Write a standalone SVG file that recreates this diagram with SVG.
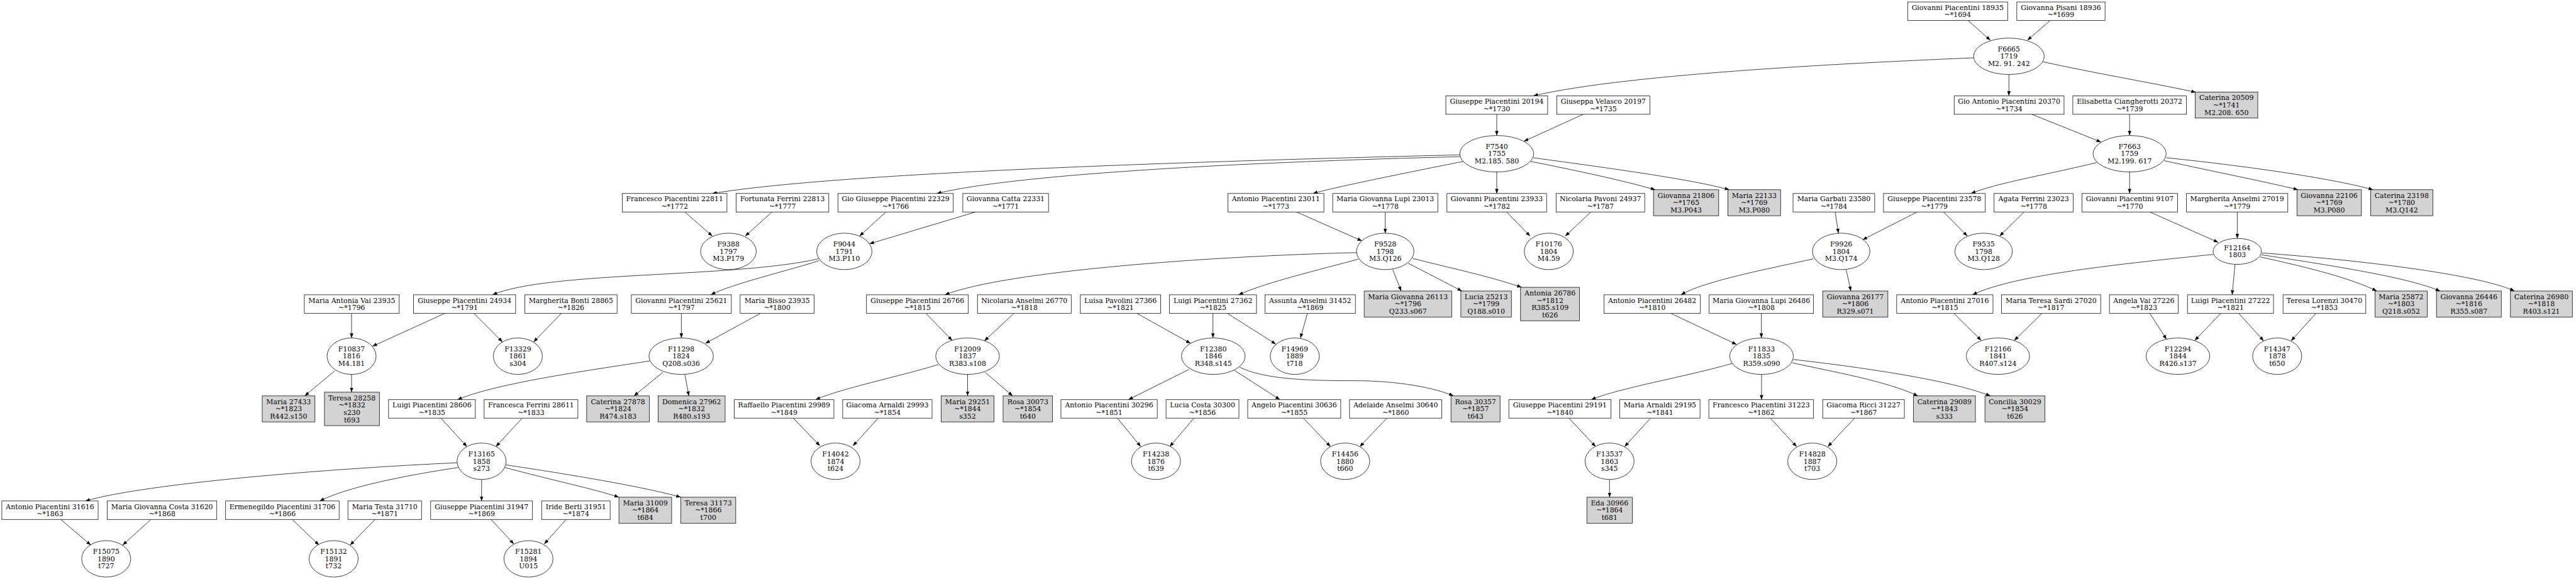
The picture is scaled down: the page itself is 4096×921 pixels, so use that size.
<svg xmlns="http://www.w3.org/2000/svg" width="4096" height="921" viewBox="0 0 4096 921">
<style>
.b{fill:#fff;stroke:#000;stroke-width:1.3}
.g{fill:#d3d3d3;stroke:#000;stroke-width:1.3}
.e{fill:#fff;stroke:#000;stroke-width:1.3}
text{font-family:"DejaVu Serif",serif;font-size:18.8px;text-anchor:middle;fill:#000}
#edges path{fill:none;stroke:#000;stroke-width:1.3;marker-end:url(#a)}
</style>
<defs>
<marker id="a" markerUnits="userSpaceOnUse" viewBox="0 0 12.5 9.5" refX="12.5" refY="4.75" markerWidth="12.5" markerHeight="9.5" orient="auto"><path d="M0,0L12.5,4.75L0,9.5z" fill="#000"/></marker>
</defs>
<rect width="4096" height="921" fill="#fff"/>
<g transform="scale(0.58232)">
<g id="edges">
<path d="M5374,55.9 L5435,110"/>
<path d="M5598,55.9 L5536,110"/>
<path d="M5485.5,203.6 L5485.5,261.7"/>
<path d="M5389,158 C5100,170 4450,200 4187,261.7"/>
<path d="M5579,169 C5720,200 5870,225 5996,252"/>
<path d="M4087,312.3 L4087,370.2"/>
<path d="M4323,312.3 L4161,386"/>
<path d="M5548,312.3 L5737,388"/>
<path d="M5815,312.3 L5815,370.2"/>
<path d="M3986,423 C3300,440 2300,470 1945,528.5"/>
<path d="M3987,428 C3500,440 2800,470 2558,528.5"/>
<path d="M3995,441 C3850,470 3650,510 3585,528.5"/>
<path d="M4087,469.8 L4087,528.5"/>
<path d="M4180,441 C4300,465 4420,490 4520,518.3"/>
<path d="M4187,431 C4400,460 4620,490 4722,518.3"/>
<path d="M1870,579 L1945,645"/>
<path d="M2108,579 L2035,645"/>
<path d="M2419,579 L2347,645"/>
<path d="M2664,579 L2374,666"/>
<path d="M3540,579 L3719,658"/>
<path d="M3782.5,579 L3782.5,637"/>
<path d="M4114,579 L4178,645"/>
<path d="M4344,579 L4274,645"/>
<path d="M5725,444 C5600,475 5450,500 5382,528.5"/>
<path d="M5815,469.8 L5815,528.5"/>
<path d="M5910,439 C6050,470 6180,495 6275,518.3"/>
<path d="M5916,431 C6150,455 6380,490 6480,518.3"/>
<path d="M5011,579 L5020,637"/>
<path d="M5235,579 L5086,655"/>
<path d="M5307,579 L5372,645"/>
<path d="M5527,579 L5460,645"/>
<path d="M5870,579 L6057,662"/>
<path d="M6109,579 L6109,651.5"/>
<path d="M2235,707 C2000,760 1500,740 1345,805.2"/>
<path d="M2237,712 C2150,740 2000,775 1941,805.2"/>
<path d="M3704,690 C3300,700 2750,740 2580,805.2"/>
<path d="M3709,708 C3550,750 3450,775 3382,805.2"/>
<path d="M3803,736.5 L3826,795"/>
<path d="M3845,719 L3992,795"/>
<path d="M3858,706 C3950,730 4070,755 4155,785"/>
<path d="M4952,707 C4800,740 4650,770 4590,805.2"/>
<path d="M5041,736.5 L5054,795"/>
<path d="M6043,695 C5800,720 5500,750 5386,805.2"/>
<path d="M6103,722.2 L6095,805.2"/>
<path d="M6172,702 C6300,730 6420,760 6490,795"/>
<path d="M6175,696 C6400,730 6580,760 6663,795"/>
<path d="M6177,691 C6500,715 6780,755 6866,795"/>
<path d="M960,855.8 L960,923.2"/>
<path d="M1215,855.8 L1017,946"/>
<path d="M1294,855.8 L1372,934"/>
<path d="M1533,855.8 L1457,934"/>
<path d="M1860.5,855.8 L1860.5,923.2"/>
<path d="M2077,855.8 L1926,938"/>
<path d="M2528,855.8 L2600,930"/>
<path d="M2769,855.8 L2688,931"/>
<path d="M3104,855.8 L3251,938"/>
<path d="M3312,855.8 L3312,923.2"/>
<path d="M3351,855.8 L3484,940"/>
<path d="M3570,855.8 L3551,923.5"/>
<path d="M4809.5,855.8 L4809.5,923.2"/>
<path d="M4562,855.8 L4742,941"/>
<path d="M5335,855.8 L5410,930"/>
<path d="M5576,855.8 L5500,930"/>
<path d="M5870,855.8 L5916,927"/>
<path d="M6064,855.8 L5993,930"/>
<path d="M6113,855.8 L6181,931"/>
<path d="M6324,855.8 L6256,931"/>
<path d="M914,1013 L832,1081.5"/>
<path d="M960,1022.8 L960,1071.3"/>
<path d="M1774,986 C1550,1020 1350,1050 1249,1091.7"/>
<path d="M1810,1017 L1731,1081.5"/>
<path d="M1870,1022.8 L1881,1081.5"/>
<path d="M2562,996 C2450,1030 2300,1060 2227,1091.7"/>
<path d="M2642,1022.8 L2642,1081.5"/>
<path d="M2690,1017 L2765,1081.5"/>
<path d="M3247,1009 L3081,1091.7"/>
<path d="M3371,1012 L3495,1091.7"/>
<path d="M3385,1003 C3450,1035 3560,1040 3700,1040 C3820,1040 3920,1060 3969,1081.5"/>
<path d="M4729,993 C4600,1030 4420,1060 4345,1091.7"/>
<path d="M4810,1022.8 L4810,1091.7"/>
<path d="M4894,991 C5000,1015 5150,1040 5237,1081.5"/>
<path d="M4897,982 C5100,1005 5330,1040 5435,1081.5"/>
<path d="M1204,1142.2 L1275,1220"/>
<path d="M1426,1142.2 L1354,1220"/>
<path d="M2166,1142.2 L2239,1218"/>
<path d="M2398,1142.2 L2329,1218"/>
<path d="M3051,1142.2 L3115,1220"/>
<path d="M3260,1142.2 L3194,1220"/>
<path d="M3559,1142.2 L3633,1220"/>
<path d="M3787,1142.2 L3713,1220"/>
<path d="M4284,1142.2 L4357,1220"/>
<path d="M4507,1142.2 L4436,1220"/>
<path d="M4834,1142.2 L4906,1220"/>
<path d="M5064,1142.2 L4991,1220"/>
<path d="M1249,1264 C900,1280 400,1320 233,1368.5"/>
<path d="M1251,1277 C1100,1300 950,1330 873,1368.5"/>
<path d="M1315,1309.8 L1315,1368.5"/>
<path d="M1379,1277 C1500,1310 1620,1335 1690,1358.2"/>
<path d="M1382,1270 C1550,1295 1760,1330 1859,1358.2"/>
<path d="M4395,1309.8 L4395,1358.2"/>
<path d="M166,1419 L248,1489"/>
<path d="M412,1419 L335,1489"/>
<path d="M798,1419 L871,1489"/>
<path d="M1024,1419 L956,1489"/>
<path d="M1341,1419 L1403,1486"/>
<path d="M1546,1419 L1486,1486"/>
</g>

<g id="p18935"><rect class="b" x="5209" y="5.35" width="273" height="50.5"/><text x="5345.5" y="27.1"><tspan x="5345.5">Giovanni Piacentini 18935</tspan><tspan x="5345.5" dy="20">~*1694</tspan></text></g>
<g id="p18936"><rect class="b" x="5507" y="5.35" width="241" height="50.5"/><text x="5627.5" y="27.1"><tspan x="5627.5">Giovanna Pisani 18936</tspan><tspan x="5627.5" dy="20">~*1699</tspan></text></g>
<g id="F6665"><ellipse class="e" cx="5485.5" cy="153.8" rx="96.5" ry="49.8"/><text x="5485.5" y="140.3"><tspan x="5485.5">F6665</tspan><tspan x="5485.5" dy="20">1719</tspan><tspan x="5485.5" dy="20">M2. 91. 242</tspan></text></g>

<g id="p20194"><rect class="b" x="3948" y="261.75" width="278" height="50.5"/><text x="4087" y="283.5"><tspan x="4087">Giuseppe Piacentini 20194</tspan><tspan x="4087" dy="20">~*1730</tspan></text></g>
<g id="p20197"><rect class="b" x="4251" y="261.75" width="254" height="50.5"/><text x="4378" y="283.5"><tspan x="4378">Giuseppa Velasco 20197</tspan><tspan x="4378" dy="20">~*1735</tspan></text></g>
<g id="p20370"><rect class="b" x="5336" y="261.75" width="300" height="50.5"/><text x="5486" y="283.5"><tspan x="5486">Gio Antonio Piacentini 20370</tspan><tspan x="5486" dy="20">~*1734</tspan></text></g>
<g id="p20372"><rect class="b" x="5660" y="261.75" width="310" height="50.5"/><text x="5815" y="283.5"><tspan x="5815">Elisabetta Ciangherotti 20372</tspan><tspan x="5815" dy="20">~*1739</tspan></text></g>
<g id="p20509"><rect class="g" x="5994" y="251.5" width="171" height="71"/><text x="6079.5" y="273.5"><tspan x="6079.5">Caterina 20509</tspan><tspan x="6079.5" dy="20">~*1741</tspan><tspan x="6079.5" dy="20">M2.208. 650</tspan></text></g>

<g id="F7540"><ellipse class="e" cx="4087" cy="420" rx="101" ry="49.8"/><text x="4087" y="406.5"><tspan x="4087">F7540</tspan><tspan x="4087" dy="20">1755</tspan><tspan x="4087" dy="20">M2.185. 580</tspan></text></g>
<g id="F7663"><ellipse class="e" cx="5815" cy="420" rx="100" ry="49.8"/><text x="5815" y="406.5"><tspan x="5815">F7663</tspan><tspan x="5815" dy="20">1759</tspan><tspan x="5815" dy="20">M2.199. 617</tspan></text></g>

<g id="p22811"><rect class="b" x="1699" y="528.55" width="286" height="50.5"/><text x="1842" y="550.3"><tspan x="1842">Francesco Piacentini 22811</tspan><tspan x="1842" dy="20">~*1772</tspan></text></g>
<g id="p22813"><rect class="b" x="2010" y="528.55" width="253" height="50.5"/><text x="2136.5" y="550.3"><tspan x="2136.5">Fortunata Ferrini 22813</tspan><tspan x="2136.5" dy="20">~*1777</tspan></text></g>
<g id="p22329"><rect class="b" x="2288" y="528.55" width="315" height="50.5"/><text x="2445.5" y="550.3"><tspan x="2445.5">Gio Giuseppe Piacentini 22329</tspan><tspan x="2445.5" dy="20">~*1766</tspan></text></g>
<g id="p22331"><rect class="b" x="2629" y="528.55" width="234" height="50.5"/><text x="2746" y="550.3"><tspan x="2746">Giovanna Catta 22331</tspan><tspan x="2746" dy="20">~*1771</tspan></text></g>
<g id="p23011"><rect class="b" x="3353" y="528.55" width="262" height="50.5"/><text x="3484" y="550.3"><tspan x="3484">Antonio Piacentini 23011</tspan><tspan x="3484" dy="20">~*1773</tspan></text></g>
<g id="p23013"><rect class="b" x="3639" y="528.55" width="287" height="50.5"/><text x="3782.5" y="550.3"><tspan x="3782.5">Maria Giovanna Lupi 23013</tspan><tspan x="3782.5" dy="20">~*1778</tspan></text></g>
<g id="p23933"><rect class="b" x="3951" y="528.55" width="272" height="50.5"/><text x="4087" y="550.3"><tspan x="4087">Giovanni Piacentini 23933</tspan><tspan x="4087" dy="20">~*1782</tspan></text></g>
<g id="p24937"><rect class="b" x="4249" y="528.55" width="242" height="50.5"/><text x="4370" y="550.3"><tspan x="4370">Nicolaria Pavoni 24937</tspan><tspan x="4370" dy="20">~*1787</tspan></text></g>
<g id="p21806"><rect class="g" x="4515" y="518.3" width="178" height="71"/><text x="4604" y="540.3"><tspan x="4604">Giovanna 21806</tspan><tspan x="4604" dy="20">~*1765</tspan><tspan x="4604" dy="20">M3.P043</tspan></text></g>
<g id="p22133"><rect class="g" x="4718" y="518.3" width="144" height="71"/><text x="4790" y="540.3"><tspan x="4790">Maria 22133</tspan><tspan x="4790" dy="20">~*1769</tspan><tspan x="4790" dy="20">M3.P080</tspan></text></g>
<g id="p23580"><rect class="b" x="4896" y="528.55" width="223" height="50.5"/><text x="5007.5" y="550.3"><tspan x="5007.5">Maria Garbati 23580</tspan><tspan x="5007.5" dy="20">~*1784</tspan></text></g>
<g id="p23578"><rect class="b" x="5143" y="528.55" width="278" height="50.5"/><text x="5282" y="550.3"><tspan x="5282">Giuseppe Piacentini 23578</tspan><tspan x="5282" dy="20">~*1779</tspan></text></g>
<g id="p23023"><rect class="b" x="5445" y="528.55" width="216" height="50.5"/><text x="5553" y="550.3"><tspan x="5553">Agata Ferrini 23023</tspan><tspan x="5553" dy="20">~*1778</tspan></text></g>
<g id="p9107"><rect class="b" x="5685" y="528.55" width="261" height="50.5"/><text x="5815.5" y="550.3"><tspan x="5815.5">Giovanni Piacentini 9107</tspan><tspan x="5815.5" dy="20">~*1770</tspan></text></g>
<g id="p27019"><rect class="b" x="5970" y="528.55" width="277" height="50.5"/><text x="6108.5" y="550.3"><tspan x="6108.5">Margherita Anselmi 27019</tspan><tspan x="6108.5" dy="20">~*1779</tspan></text></g>
<g id="p22106"><rect class="g" x="6272" y="518.3" width="176" height="71"/><text x="6360" y="540.3"><tspan x="6360">Giovanna 22106</tspan><tspan x="6360" dy="20">~*1769</tspan><tspan x="6360" dy="20">M3.P080</tspan></text></g>
<g id="p23198"><rect class="g" x="6473" y="518.3" width="170" height="71"/><text x="6558" y="540.3"><tspan x="6558">Caterina 23198</tspan><tspan x="6558" dy="20">~*1780</tspan><tspan x="6558" dy="20">M3.Q142</tspan></text></g>

<g id="F9388"><ellipse class="e" cx="1989" cy="686.7" rx="76" ry="49.8"/><text x="1989" y="673.2"><tspan x="1989">F9388</tspan><tspan x="1989" dy="20">1797</tspan><tspan x="1989" dy="20">M3.P179</tspan></text></g>
<g id="F9044"><ellipse class="e" cx="2305.5" cy="686.7" rx="75.5" ry="49.8"/><text x="2305.5" y="673.2"><tspan x="2305.5">F9044</tspan><tspan x="2305.5" dy="20">1791</tspan><tspan x="2305.5" dy="20">M3.P110</tspan></text></g>
<g id="F9528"><ellipse class="e" cx="3782.5" cy="686.7" rx="78.5" ry="49.8"/><text x="3782.5" y="673.2"><tspan x="3782.5">F9528</tspan><tspan x="3782.5" dy="20">1798</tspan><tspan x="3782.5" dy="20">M3.Q126</tspan></text></g>
<g id="F10176"><ellipse class="e" cx="4229" cy="686.7" rx="67" ry="49.8"/><text x="4229" y="673.2"><tspan x="4229">F10176</tspan><tspan x="4229" dy="20">1804</tspan><tspan x="4229" dy="20">M4.59</tspan></text></g>
<g id="F9926"><ellipse class="e" cx="5027.5" cy="686.7" rx="78.5" ry="49.8"/><text x="5027.5" y="673.2"><tspan x="5027.5">F9926</tspan><tspan x="5027.5" dy="20">1804</tspan><tspan x="5027.5" dy="20">M3.Q174</tspan></text></g>
<g id="F9535"><ellipse class="e" cx="5416.5" cy="686.7" rx="78.5" ry="49.8"/><text x="5416.5" y="673.2"><tspan x="5416.5">F9535</tspan><tspan x="5416.5" dy="20">1798</tspan><tspan x="5416.5" dy="20">M3.Q128</tspan></text></g>
<g id="F12164"><ellipse class="e" cx="6109" cy="686.7" rx="66" ry="35.5"/><text x="6109" y="683.2"><tspan x="6109">F12164</tspan><tspan x="6109" dy="20">1803</tspan></text></g>

<g id="p23935a"><rect class="b" x="831" y="805.25" width="259" height="50.5"/><text x="960.5" y="827"><tspan x="960.5">Maria Antonia Vai 23935</tspan><tspan x="960.5" dy="20">~*1796</tspan></text></g>
<g id="p24934"><rect class="b" x="1129" y="805.25" width="279" height="50.5"/><text x="1268.5" y="827"><tspan x="1268.5">Giuseppe Piacentini 24934</tspan><tspan x="1268.5" dy="20">~*1791</tspan></text></g>
<g id="p28865"><rect class="b" x="1433" y="805.25" width="252" height="50.5"/><text x="1559" y="827"><tspan x="1559">Margherita Bonti 28865</tspan><tspan x="1559" dy="20">~*1826</tspan></text></g>
<g id="p25621"><rect class="b" x="1724" y="805.25" width="273" height="50.5"/><text x="1860.5" y="827"><tspan x="1860.5">Giovanni Piacentini 25621</tspan><tspan x="1860.5" dy="20">~*1797</tspan></text></g>
<g id="p23935b"><rect class="b" x="2021" y="805.25" width="202" height="50.5"/><text x="2122" y="827"><tspan x="2122">Maria Bisso 23935</tspan><tspan x="2122" dy="20">~*1800</tspan></text></g>
<g id="p26766"><rect class="b" x="2366" y="805.25" width="278" height="50.5"/><text x="2505" y="827"><tspan x="2505">Giuseppe Piacentini 26766</tspan><tspan x="2505" dy="20">~*1815</tspan></text></g>
<g id="p26770"><rect class="b" x="2669" y="805.25" width="256" height="50.5"/><text x="2797" y="827"><tspan x="2797">Nicolaria Anselmi 26770</tspan><tspan x="2797" dy="20">~*1818</tspan></text></g>
<g id="p27366"><rect class="b" x="2950" y="805.25" width="219" height="50.5"/><text x="3059.5" y="827"><tspan x="3059.5">Luisa Pavolini 27366</tspan><tspan x="3059.5" dy="20">~*1821</tspan></text></g>
<g id="p27362"><rect class="b" x="3193" y="805.25" width="238" height="50.5"/><text x="3312" y="827"><tspan x="3312">Luigi Piacentini 27362</tspan><tspan x="3312" dy="20">~*1825</tspan></text></g>
<g id="p31452"><rect class="b" x="3454" y="805.25" width="247" height="50.5"/><text x="3577.5" y="827"><tspan x="3577.5">Assunta Anselmi 31452</tspan><tspan x="3577.5" dy="20">~*1869</tspan></text></g>
<g id="p26113"><rect class="g" x="3725" y="795" width="239" height="71"/><text x="3844.5" y="817"><tspan x="3844.5">Maria Giovanna 26113</tspan><tspan x="3844.5" dy="20">~*1796</tspan><tspan x="3844.5" dy="20">Q233.s067</tspan></text></g>
<g id="p25213"><rect class="g" x="3989" y="795" width="138" height="71"/><text x="4058" y="817"><tspan x="4058">Lucia 25213</tspan><tspan x="4058" dy="20">~*1799</tspan><tspan x="4058" dy="20">Q188.s010</tspan></text></g>
<g id="p26786"><rect class="g" x="4152" y="784.85" width="161" height="91.3"/><text x="4232.5" y="807"><tspan x="4232.5">Antonia 26786</tspan><tspan x="4232.5" dy="20">~*1812</tspan><tspan x="4232.5" dy="20">R385.s109</tspan><tspan x="4232.5" dy="20">t626</tspan></text></g>
<g id="p26482"><rect class="b" x="4380" y="805.25" width="263" height="50.5"/><text x="4511.5" y="827"><tspan x="4511.5">Antonio Piacentini 26482</tspan><tspan x="4511.5" dy="20">~*1810</tspan></text></g>
<g id="p26486"><rect class="b" x="4667" y="805.25" width="285" height="50.5"/><text x="4809.5" y="827"><tspan x="4809.5">Maria Giovanna Lupi 26486</tspan><tspan x="4809.5" dy="20">~*1808</tspan></text></g>
<g id="p26177"><rect class="g" x="4977" y="795" width="178" height="71"/><text x="5066" y="817"><tspan x="5066">Giovanna 26177</tspan><tspan x="5066" dy="20">~*1806</tspan><tspan x="5066" dy="20">R329.s071</tspan></text></g>
<g id="p27016"><rect class="b" x="5179" y="805.25" width="263" height="50.5"/><text x="5310.5" y="827"><tspan x="5310.5">Antonio Piacentini 27016</tspan><tspan x="5310.5" dy="20">~*1815</tspan></text></g>
<g id="p27020"><rect class="b" x="5465" y="805.25" width="271" height="50.5"/><text x="5600.5" y="827"><tspan x="5600.5">Maria Teresa Sardi 27020</tspan><tspan x="5600.5" dy="20">~*1817</tspan></text></g>
<g id="p27226"><rect class="b" x="5760" y="805.25" width="188" height="50.5"/><text x="5854" y="827"><tspan x="5854">Angela Vai 27226</tspan><tspan x="5854" dy="20">~*1823</tspan></text></g>
<g id="p27222"><rect class="b" x="5973" y="805.25" width="235" height="50.5"/><text x="6090.5" y="827"><tspan x="6090.5">Luigi Piacentini 27222</tspan><tspan x="6090.5" dy="20">~*1821</tspan></text></g>
<g id="p30470"><rect class="b" x="6234" y="805.25" width="226" height="50.5"/><text x="6347" y="827"><tspan x="6347">Teresa Lorenzi 30470</tspan><tspan x="6347" dy="20">~*1853</tspan></text></g>
<g id="p25872"><rect class="g" x="6485" y="795" width="143" height="71"/><text x="6556.5" y="817"><tspan x="6556.5">Maria 25872</tspan><tspan x="6556.5" dy="20">~*1803</tspan><tspan x="6556.5" dy="20">Q218.s052</tspan></text></g>
<g id="p26446"><rect class="g" x="6653" y="795" width="177" height="71"/><text x="6741.5" y="817"><tspan x="6741.5">Giovanna 26446</tspan><tspan x="6741.5" dy="20">~*1816</tspan><tspan x="6741.5" dy="20">R355.s087</tspan></text></g>
<g id="p26980"><rect class="g" x="6855" y="795" width="169" height="71"/><text x="6939.5" y="817"><tspan x="6939.5">Caterina 26980</tspan><tspan x="6939.5" dy="20">~*1818</tspan><tspan x="6939.5" dy="20">R403.s121</tspan></text></g>

<g id="F10837"><ellipse class="e" cx="960" cy="973" rx="67" ry="49.8"/><text x="960" y="959.5"><tspan x="960">F10837</tspan><tspan x="960" dy="20">1816</tspan><tspan x="960" dy="20">M4.181</tspan></text></g>
<g id="F13329"><ellipse class="e" cx="1414" cy="973" rx="67" ry="49.8"/><text x="1414" y="959.5"><tspan x="1414">F13329</tspan><tspan x="1414" dy="20">1861</tspan><tspan x="1414" dy="20">s304</tspan></text></g>
<g id="F11298"><ellipse class="e" cx="1860" cy="973" rx="88" ry="49.8"/><text x="1860" y="959.5"><tspan x="1860">F11298</tspan><tspan x="1860" dy="20">1824</tspan><tspan x="1860" dy="20">Q208.s036</tspan></text></g>
<g id="F12009"><ellipse class="e" cx="2642" cy="973" rx="87" ry="49.8"/><text x="2642" y="959.5"><tspan x="2642">F12009</tspan><tspan x="2642" dy="20">1837</tspan><tspan x="2642" dy="20">R383.s108</tspan></text></g>
<g id="F12380"><ellipse class="e" cx="3313" cy="973" rx="87" ry="49.8"/><text x="3313" y="959.5"><tspan x="3313">F12380</tspan><tspan x="3313" dy="20">1846</tspan><tspan x="3313" dy="20">R348.s145</tspan></text></g>
<g id="F14969"><ellipse class="e" cx="3535.5" cy="973" rx="67" ry="49.8"/><text x="3535.5" y="959.5"><tspan x="3535.5">F14969</tspan><tspan x="3535.5" dy="20">1889</tspan><tspan x="3535.5" dy="20">t718</tspan></text></g>
<g id="F11833"><ellipse class="e" cx="4810" cy="973" rx="87" ry="49.8"/><text x="4810" y="959.5"><tspan x="4810">F11833</tspan><tspan x="4810" dy="20">1835</tspan><tspan x="4810" dy="20">R359.s090</tspan></text></g>
<g id="F12166"><ellipse class="e" cx="5455.5" cy="973" rx="86.5" ry="49.8"/><text x="5455.5" y="959.5"><tspan x="5455.5">F12166</tspan><tspan x="5455.5" dy="20">1841</tspan><tspan x="5455.5" dy="20">R407.s124</tspan></text></g>
<g id="F12294"><ellipse class="e" cx="5947" cy="973" rx="87" ry="49.8"/><text x="5947" y="959.5"><tspan x="5947">F12294</tspan><tspan x="5947" dy="20">1844</tspan><tspan x="5947" dy="20">R426.s137</tspan></text></g>
<g id="F14347"><ellipse class="e" cx="6218" cy="973" rx="67" ry="49.8"/><text x="6218" y="959.5"><tspan x="6218">F14347</tspan><tspan x="6218" dy="20">1878</tspan><tspan x="6218" dy="20">t650</tspan></text></g>

<g id="p27433"><rect class="g" x="716" y="1081.5" width="144" height="71"/><text x="788" y="1103.5"><tspan x="788">Maria 27433</tspan><tspan x="788" dy="20">~*1823</tspan><tspan x="788" dy="20">R442.s150</tspan></text></g>
<g id="p28258"><rect class="g" x="886" y="1071.35" width="150" height="91.3"/><text x="961" y="1093.5"><tspan x="961">Teresa 28258</tspan><tspan x="961" dy="20">~*1832</tspan><tspan x="961" dy="20">s230</tspan><tspan x="961" dy="20">t693</tspan></text></g>
<g id="p28606"><rect class="b" x="1061" y="1091.75" width="237" height="50.5"/><text x="1179.5" y="1113.5"><tspan x="1179.5">Luigi Piacentini 28606</tspan><tspan x="1179.5" dy="20">~*1835</tspan></text></g>
<g id="p28611"><rect class="b" x="1322" y="1091.75" width="256" height="50.5"/><text x="1450" y="1113.5"><tspan x="1450">Francesca Ferrini 28611</tspan><tspan x="1450" dy="20">~*1833</tspan></text></g>
<g id="p27878"><rect class="g" x="1602" y="1081.5" width="171" height="71"/><text x="1687.5" y="1103.5"><tspan x="1687.5">Caterina 27878</tspan><tspan x="1687.5" dy="20">~*1824</tspan><tspan x="1687.5" dy="20">R474.s183</tspan></text></g>
<g id="p27962"><rect class="g" x="1797" y="1081.5" width="183" height="71"/><text x="1888.5" y="1103.5"><tspan x="1888.5">Domenica 27962</tspan><tspan x="1888.5" dy="20">~*1832</tspan><tspan x="1888.5" dy="20">R480.s193</tspan></text></g>
<g id="p29989"><rect class="b" x="2005" y="1091.75" width="272" height="50.5"/><text x="2141" y="1113.5"><tspan x="2141">Raffaello Piacentini 29989</tspan><tspan x="2141" dy="20">~*1849</tspan></text></g>
<g id="p29993"><rect class="b" x="2301" y="1091.75" width="244" height="50.5"/><text x="2423" y="1113.5"><tspan x="2423">Giacoma Arnaldi 29993</tspan><tspan x="2423" dy="20">~*1854</tspan></text></g>
<g id="p29251"><rect class="g" x="2570" y="1081.5" width="144" height="71"/><text x="2642" y="1103.5"><tspan x="2642">Maria 29251</tspan><tspan x="2642" dy="20">~*1844</tspan><tspan x="2642" dy="20">s352</tspan></text></g>
<g id="p30073"><rect class="g" x="2739" y="1081.5" width="135" height="71"/><text x="2806.5" y="1103.5"><tspan x="2806.5">Rosa 30073</tspan><tspan x="2806.5" dy="20">~*1854</tspan><tspan x="2806.5" dy="20">t640</tspan></text></g>
<g id="p30296"><rect class="b" x="2897" y="1091.75" width="263" height="50.5"/><text x="3028.5" y="1113.5"><tspan x="3028.5">Antonio Piacentini 30296</tspan><tspan x="3028.5" dy="20">~*1851</tspan></text></g>
<g id="p30300"><rect class="b" x="3184" y="1091.75" width="199" height="50.5"/><text x="3283.5" y="1113.5"><tspan x="3283.5">Lucia Costa 30300</tspan><tspan x="3283.5" dy="20">~*1856</tspan></text></g>
<g id="p30636"><rect class="b" x="3407" y="1091.75" width="254" height="50.5"/><text x="3534" y="1113.5"><tspan x="3534">Angelo Piacentini 30636</tspan><tspan x="3534" dy="20">~*1855</tspan></text></g>
<g id="p30640"><rect class="b" x="3685" y="1091.75" width="252" height="50.5"/><text x="3811" y="1113.5"><tspan x="3811">Adelaide Anselmi 30640</tspan><tspan x="3811" dy="20">~*1860</tspan></text></g>
<g id="p30357"><rect class="g" x="3962" y="1081.5" width="134" height="71"/><text x="4029" y="1103.5"><tspan x="4029">Rosa 30357</tspan><tspan x="4029" dy="20">~*1857</tspan><tspan x="4029" dy="20">t643</tspan></text></g>
<g id="p29191"><rect class="b" x="4120" y="1091.75" width="279" height="50.5"/><text x="4259.5" y="1113.5"><tspan x="4259.5">Giuseppe Piacentini 29191</tspan><tspan x="4259.5" dy="20">~*1840</tspan></text></g>
<g id="p29195"><rect class="b" x="4423" y="1091.75" width="219" height="50.5"/><text x="4532.5" y="1113.5"><tspan x="4532.5">Maria Arnaldi 29195</tspan><tspan x="4532.5" dy="20">~*1841</tspan></text></g>
<g id="p31223"><rect class="b" x="4666" y="1091.75" width="286" height="50.5"/><text x="4809" y="1113.5"><tspan x="4809">Francesco Piacentini 31223</tspan><tspan x="4809" dy="20">~*1862</tspan></text></g>
<g id="p31227"><rect class="b" x="4977" y="1091.75" width="223" height="50.5"/><text x="5088.5" y="1113.5"><tspan x="5088.5">Giacoma Ricci 31227</tspan><tspan x="5088.5" dy="20">~*1867</tspan></text></g>
<g id="p29089"><rect class="g" x="5225" y="1081.5" width="169" height="71"/><text x="5309.5" y="1103.5"><tspan x="5309.5">Caterina 29089</tspan><tspan x="5309.5" dy="20">~*1843</tspan><tspan x="5309.5" dy="20">s333</tspan></text></g>
<g id="p30029"><rect class="g" x="5420" y="1081.5" width="164" height="71"/><text x="5502" y="1103.5"><tspan x="5502">Concilia 30029</tspan><tspan x="5502" dy="20">~*1854</tspan><tspan x="5502" dy="20">t626</tspan></text></g>

<g id="F13165"><ellipse class="e" cx="1315" cy="1260" rx="67" ry="49.8"/><text x="1315" y="1246.5"><tspan x="1315">F13165</tspan><tspan x="1315" dy="20">1858</tspan><tspan x="1315" dy="20">s273</tspan></text></g>
<g id="F14042"><ellipse class="e" cx="2281.5" cy="1260" rx="67" ry="49.8"/><text x="2281.5" y="1246.5"><tspan x="2281.5">F14042</tspan><tspan x="2281.5" dy="20">1874</tspan><tspan x="2281.5" dy="20">t624</tspan></text></g>
<g id="F14238"><ellipse class="e" cx="3156.5" cy="1260" rx="67" ry="49.8"/><text x="3156.5" y="1246.5"><tspan x="3156.5">F14238</tspan><tspan x="3156.5" dy="20">1876</tspan><tspan x="3156.5" dy="20">t639</tspan></text></g>
<g id="F14456"><ellipse class="e" cx="3673" cy="1260" rx="67" ry="49.8"/><text x="3673" y="1246.5"><tspan x="3673">F14456</tspan><tspan x="3673" dy="20">1880</tspan><tspan x="3673" dy="20">t660</tspan></text></g>
<g id="F13537"><ellipse class="e" cx="4395" cy="1260" rx="67" ry="49.8"/><text x="4395" y="1246.5"><tspan x="4395">F13537</tspan><tspan x="4395" dy="20">1863</tspan><tspan x="4395" dy="20">s345</tspan></text></g>
<g id="F14828"><ellipse class="e" cx="4948.5" cy="1260" rx="67" ry="49.8"/><text x="4948.5" y="1246.5"><tspan x="4948.5">F14828</tspan><tspan x="4948.5" dy="20">1887</tspan><tspan x="4948.5" dy="20">t703</tspan></text></g>

<g id="p31616"><rect class="b" x="5" y="1368.45" width="263" height="50.5"/><text x="136.5" y="1390.2"><tspan x="136.5">Antonio Piacentini 31616</tspan><tspan x="136.5" dy="20">~*1863</tspan></text></g>
<g id="p31620"><rect class="b" x="293" y="1368.45" width="299" height="50.5"/><text x="442.5" y="1390.2"><tspan x="442.5">Maria Giovanna Costa 31620</tspan><tspan x="442.5" dy="20">~*1868</tspan></text></g>
<g id="p31706"><rect class="b" x="616" y="1368.45" width="310" height="50.5"/><text x="771" y="1390.2"><tspan x="771">Ermenegildo Piacentini 31706</tspan><tspan x="771" dy="20">~*1866</tspan></text></g>
<g id="p31710"><rect class="b" x="950" y="1368.45" width="201" height="50.5"/><text x="1050.5" y="1390.2"><tspan x="1050.5">Maria Testa 31710</tspan><tspan x="1050.5" dy="20">~*1871</tspan></text></g>
<g id="p31947"><rect class="b" x="1176" y="1368.45" width="278" height="50.5"/><text x="1315" y="1390.2"><tspan x="1315">Giuseppe Piacentini 31947</tspan><tspan x="1315" dy="20">~*1869</tspan></text></g>
<g id="p31951"><rect class="b" x="1479" y="1368.45" width="187" height="50.5"/><text x="1572.5" y="1390.2"><tspan x="1572.5">Iride Berti 31951</tspan><tspan x="1572.5" dy="20">~*1874</tspan></text></g>
<g id="p31009"><rect class="g" x="1690" y="1358.2" width="144" height="71"/><text x="1762" y="1380.2"><tspan x="1762">Maria 31009</tspan><tspan x="1762" dy="20">~*1864</tspan><tspan x="1762" dy="20">t684</tspan></text></g>
<g id="p31173"><rect class="g" x="1859" y="1358.2" width="150" height="71"/><text x="1934" y="1380.2"><tspan x="1934">Teresa 31173</tspan><tspan x="1934" dy="20">~*1866</tspan><tspan x="1934" dy="20">t700</tspan></text></g>
<g id="p30966"><rect class="g" x="4333" y="1358.2" width="124" height="71"/><text x="4395" y="1380.2"><tspan x="4395">Eda 30966</tspan><tspan x="4395" dy="20">~*1864</tspan><tspan x="4395" dy="20">t681</tspan></text></g>

<g id="F15075"><ellipse class="e" cx="290" cy="1526.6" rx="67" ry="49.8"/><text x="290" y="1513.1"><tspan x="290">F15075</tspan><tspan x="290" dy="20">1890</tspan><tspan x="290" dy="20">t727</tspan></text></g>
<g id="F15132"><ellipse class="e" cx="911" cy="1526.6" rx="67" ry="49.8"/><text x="911" y="1513.1"><tspan x="911">F15132</tspan><tspan x="911" dy="20">1891</tspan><tspan x="911" dy="20">t732</tspan></text></g>
<g id="F15281"><ellipse class="e" cx="1443" cy="1526.6" rx="67" ry="49.8"/><text x="1443" y="1513.1"><tspan x="1443">F15281</tspan><tspan x="1443" dy="20">1894</tspan><tspan x="1443" dy="20">U015</tspan></text></g>
</g>
</svg>
